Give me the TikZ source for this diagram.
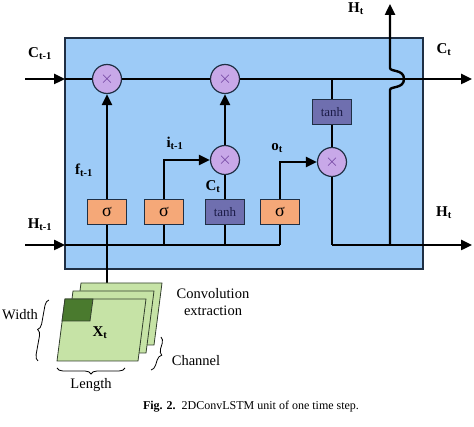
\documentclass[tikz,border=0pt]{standalone}
\usepackage{fontspec}
\setmainfont{Liberation Serif}
\usepackage{xcolor}
\usetikzlibrary{arrows.meta,decorations.pathreplacing}
\definecolor{cellbg}{HTML}{9DCBF7}
\definecolor{celledge}{HTML}{1F2F44}
\definecolor{mulbg}{HTML}{C8A8E8}
\definecolor{mulx}{HTML}{6A3A9A}
\definecolor{sigbg}{HTML}{F5A878}
\definecolor{thbg}{HTML}{6F6FAF}
\definecolor{thtext}{HTML}{1C1C48}
\definecolor{mapbg}{HTML}{C6E3A6}
\definecolor{mapdark}{HTML}{4A7A2E}
\definecolor{mapedge}{HTML}{34402E}
\tikzset{
  wire/.style={draw=black, line width=2.4pt},
  arr/.style={wire, -{Triangle[length=11pt,width=10pt]}},
  mul/.style={circle, draw=celledge, fill=mulbg, line width=1.2pt, minimum size=29pt, inner sep=0pt,
    text=mulx, font=\fontsize{18}{18}\selectfont},
  sig/.style={rectangle, draw=celledge, fill=sigbg, line width=1pt, minimum width=39pt, minimum height=25pt,
    inner sep=0pt, font=\fontsize{18}{18}\selectfont},
  th/.style={sig, fill=thbg, text=thtext, font=\fontsize{13}{13}\selectfont},
  lab/.style={font=\bfseries\fontsize{15}{15}\selectfont},
  txt/.style={font=\fontsize{14.5}{17}\selectfont, align=center},
  map/.style={draw=mapedge, fill=mapbg, line width=0.8pt},
  brc/.style={draw=black, line width=0.8pt, decorate, decoration={brace, amplitude=6pt}},
}

\begin{document}
\begin{tikzpicture}[x=1pt, y=-1pt]
  \useasboundingbox (0,0) rectangle (474,427);
  % cell
  \draw[draw=celledge, fill=cellbg, line width=2pt] (65,38) rectangle (423,269);
  \coordinate (cin) at (25,79);
  \coordinate (cl) at (65,79);
  \coordinate (cout) at (472,79);
  \coordinate (hin) at (25,245);
  \coordinate (hl) at (65,245);
  \coordinate (hend) at (280,245);
  \coordinate (hcorner) at (332,245);
  \coordinate (hout) at (472,245);
  \coordinate (hsplit) at (390,245);
  \coordinate (htop) at (390,4);
  \coordinate (xin) at (107,283);

  \node[mul] (m1) at (107,79) {$\times$};
  \node[mul] (m2) at (225,79) {$\times$};
  \node[mul] (m3) at (225,160) {$\times$};
  \node[mul] (m4) at (332,162) {$\times$};
  \node[sig] (sigf) at (107,212) {σ};
  \node[sig] (sigi) at (164,212) {σ};
  \node[th] (thc) at (225,212) {tanh};
  \node[sig] (sigo) at (280,212) {σ};
  \node[th] (tho) at (332,112) {tanh};

  % cell state
  \draw[arr] (cin) -- (cl);
  \draw[wire] (cl) -- (m1.west);
  \draw[wire] (m1.east) -- (m2.west);
  \draw[arr] (m2.east) -- (cout);
  % hidden state
  \draw[arr] (hin) -- (hl);
  \draw[wire] (hl) -- (hend);
  \draw[wire] (sigi.south) -- (sigi.south |- hl);
  \draw[wire] (thc.south) -- (thc.south |- hl);
  \draw[wire] (sigo.south) -- (hend);
  % gates
  \draw[wire] (xin) -- (sigf.south);
  \draw[arr] (sigf.north) -- (m1.south);
  \draw[arr] (sigi.north) |- (m3.west);
  \draw[wire] (thc.north) -- (m3.south);
  \draw[arr] (m3.north) -- (m2.south);
  \draw[arr] (sigo.north) |- (m4.west);
  \draw[wire] (tho.north) -- (tho.north |- cl);
  \draw[wire] (tho.south) -- (m4.north);
  \draw[wire] (m4.south) -- (hcorner);
  \draw[arr] (hcorner) -- (hout);
  \draw[arr] (hsplit) -- (390,90) .. controls (390,86) and (404,89) .. (404,79)
    .. controls (404,69) and (390,72) .. (390,68) -- (htop);

  % labels
  \node[lab] at (40,54) {C\textsubscript{t-1}};
  \node[lab] at (444,50) {C\textsubscript{t}};
  \node[lab] at (356,9) {H\textsubscript{t}};
  \node[lab] at (40,225) {H\textsubscript{t-1}};
  \node[lab] at (444,213) {H\textsubscript{t}};
  \node[lab] at (84,170) {f\textsubscript{t-1}};
  \node[lab] at (175,143) {i\textsubscript{t-1}};
  \node[lab] at (213,187) {C\textsubscript{t}};
  \node[lab] at (277,148) {o\textsubscript{t}};

  % input maps
  \draw[map] (73,345) -- (154,345) -- (162,283) -- (81,283) -- cycle;
  \draw[map] (65,353) -- (146,353) -- (154,291) -- (73,291) -- cycle;
  \draw[map] (57,361) -- (138,361) -- (146,299) -- (65,299) -- cycle;
  \draw[draw=mapedge, fill=mapdark, line width=0.8pt] (62,321) -- (90,321) -- (93,299) -- (65,299) -- cycle;
  \node[lab] at (100,333) {X\textsubscript{t}};
  \draw[brc] (38,361) -- (49,300);
  \draw[brc] (125,368) -- (57,368);
  \draw[brc] (161,337) -- (151,370);
  \node[txt] at (20,315) {Width};
  \node[txt] at (91,385) {Length};
  \node[txt] at (196,361) {Channel};
  \node[txt] at (213,302) {Convolution\\extraction};
  \node[font=\fontsize{12}{12}\selectfont] at (251,407) {\textbf{Fig. 2.}\enspace 2DConvLSTM unit of one time step.};
\end{tikzpicture}
\end{document}
